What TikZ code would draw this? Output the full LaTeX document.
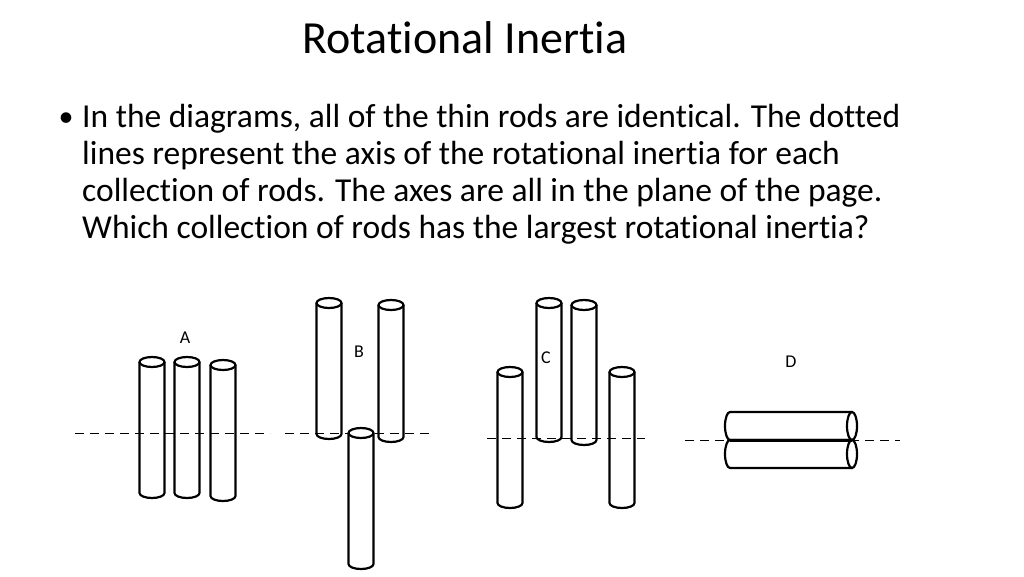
\documentclass[tikz,border=0pt]{standalone}
\usepackage{fontspec}
\setmainfont{Carlito}[Ligatures=NoCommon]
\begin{document}
\begin{tikzpicture}[x=1pt,y=-1pt,
  rodline/.style={line width=2.2pt,fill=white},
  axis/.style={line width=0.9pt,dash pattern=on 9pt off 6pt},
  lbl/.style={font=\fontsize{18}{20}\selectfont,inner sep=0pt}]
\useasboundingbox (0,0) rectangle (1024,576);
\newcommand{\vrod}[3]{%
  \draw[rodline] (#1-12.5,#2) -- (#1-12.5,#3) arc[start angle=180,end angle=360,x radius=12.5,y radius=-5] -- (#1+12.5,#2);
  \draw[rodline] (#1,#2) ellipse[x radius=12.5,y radius=5];}
\node[font=\fontsize{46}{50}\selectfont,inner sep=0pt] (title) at (465,38) {Rotational Inertia};
\node[anchor=north west,align=left,font=\fontsize{33.5}{37}\selectfont,inner sep=0pt] (txt) at (82,104)
 {In the diagrams, all of the thin rods are identical. The dotted\\lines represent the axis of the rotational inertia for each\\collection of rods. The axes are all in the plane of the page.\\Which collection of rods has the largest rotational inertia?};
\node[font=\fontsize{30}{32}\selectfont,inner sep=0pt] (bul) at (66,120) {•};
% A
\vrod{152}{362}{493}\vrod{187}{362}{493}\vrod{223}{365}{496}
\draw[axis] (75,433) -- (270,433);
\node[lbl] (la) at (185,338) {A};
% B
\vrod{329}{303}{434}\vrod{391}{305}{437}
\draw[axis] (285,433) -- (430,433);
\vrod{361}{433}{564}
\node[lbl] (lb) at (359,352) {B};
% C
\vrod{510}{372}{503}\vrod{549}{303}{437}\vrod{584}{305}{440}\vrod{622}{372}{503}
\draw[axis] (487,438) -- (645,438);
\node[lbl] (lc) at (546,358) {C};
% D
\draw[axis] (685,440) -- (900,440);
\foreach \ya/\yb in {412/440,440/468}{
  \draw[rodline] (852,\ya) -- (730,\ya) arc[start angle=90,end angle=270,x radius=5,y radius=-14] -- (852,\yb);
  \draw[rodline] (852,{(\ya+\yb)/2}) ellipse[x radius=5,y radius=14];}
\draw[line width=3pt] (730,440) -- (852,440);
\node[lbl] (ld) at (791,362) {D};
\end{tikzpicture}
\end{document}
